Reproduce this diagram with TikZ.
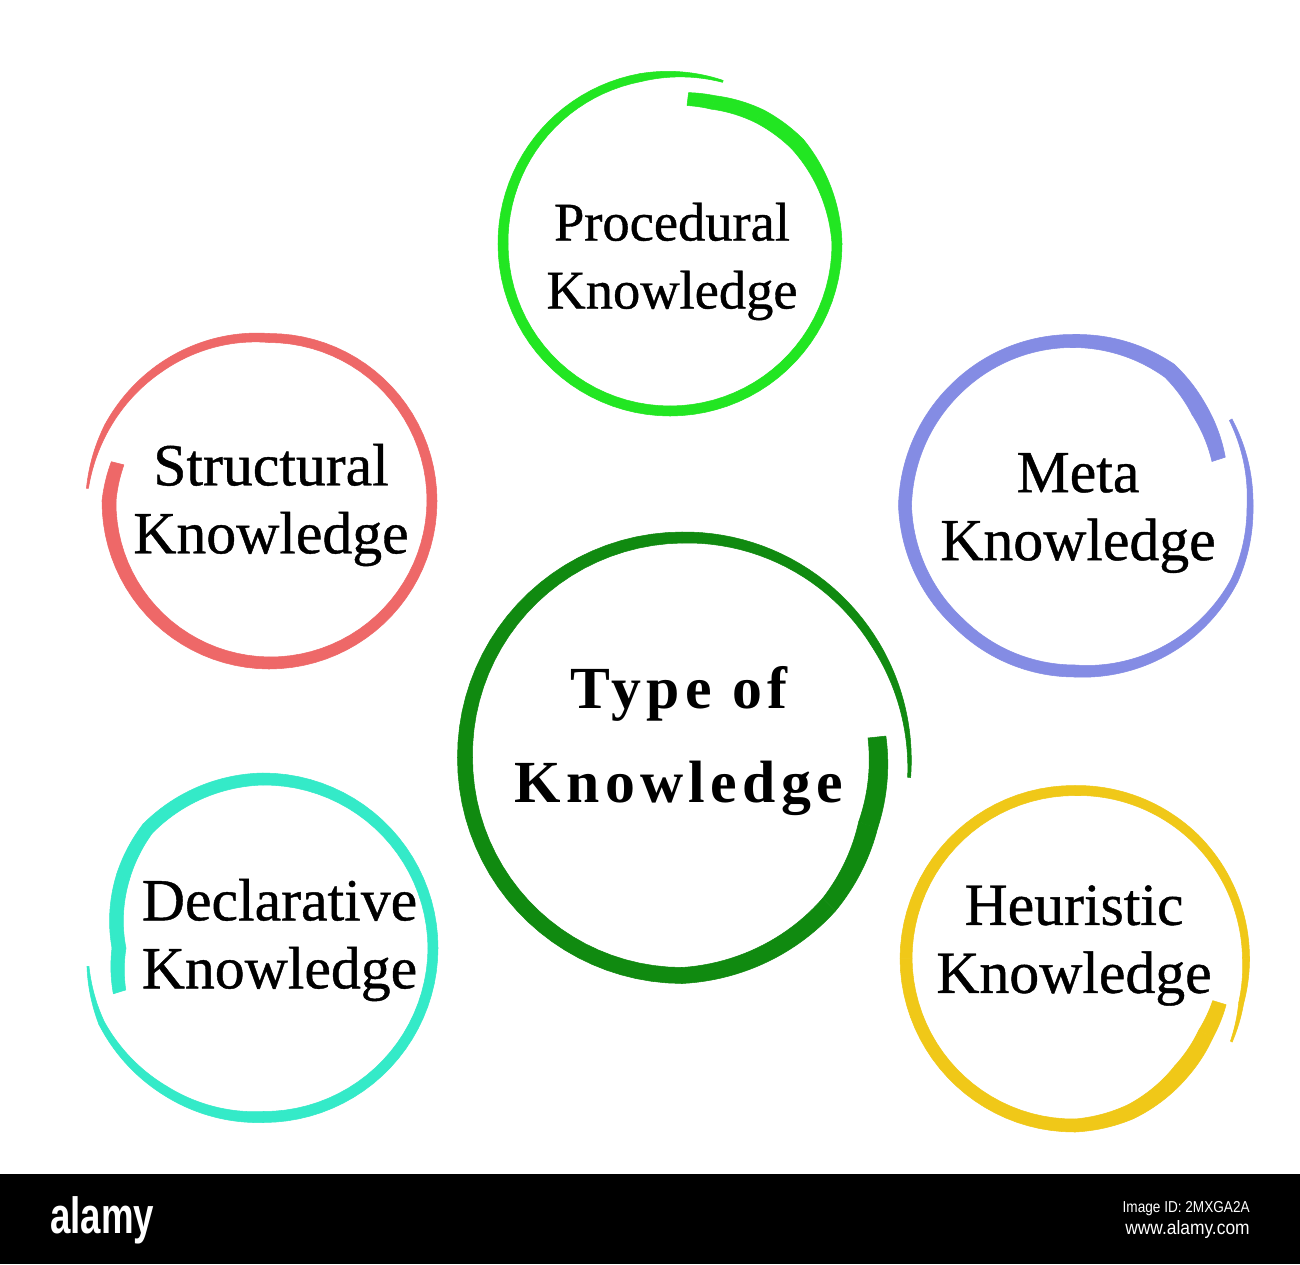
\documentclass[tikz,border=0pt]{standalone}
\usepackage{fontspec}
\setmainfont{Liberation Serif}
\newfontfamily\labelfont[FakeBold=0.7]{Liberation Serif}
\newfontfamily\typefont[LetterSpace=9]{Liberation Serif}
\newfontfamily\stampfont{Liberation Sans}
\usetikzlibrary{positioning}

\definecolor{procGreen}{RGB}{34,230,34}
\definecolor{structRed}{RGB}{238,104,104}
\definecolor{metaBlue}{RGB}{132,140,228}
\definecolor{typeGreen}{RGB}{16,138,16}
\definecolor{declTeal}{RGB}{52,234,200}
\definecolor{heurGold}{RGB}{240,200,24}

% one brush segment: colour, centre x, centre y, angle from/to, radius from/to, width from/to
\newcommand{\brushstroke}[9][black]{%
  \filldraw[#1, line width=.3pt, line join=round]
    plot[domain=#4:#5, samples=24]
      ({#2+((#6)+((#7)-(#6))*(\x-(#4))/((#5)-(#4))+((#8)+((#9)-(#8))*(\x-(#4))/((#5)-(#4)))/2)*cos(\x)},
       {#3-((#6)+((#7)-(#6))*(\x-(#4))/((#5)-(#4))+((#8)+((#9)-(#8))*(\x-(#4))/((#5)-(#4)))/2)*sin(\x)})
    -- plot[domain=#5:#4, samples=24]
      ({#2+((#6)+((#7)-(#6))*(\x-(#4))/((#5)-(#4))-((#8)+((#9)-(#8))*(\x-(#4))/((#5)-(#4)))/2)*cos(\x)},
       {#3-((#6)+((#7)-(#6))*(\x-(#4))/((#5)-(#4))-((#8)+((#9)-(#8))*(\x-(#4))/((#5)-(#4)))/2)*sin(\x)})
    -- cycle;}

\begin{document}
\begin{tikzpicture}[x=0.02cm,y=-0.02cm,
          kind/.style={
            align=center,
            inner sep=0pt,
            font=\labelfont\fontsize{34}{38.7}\selectfont},
          mainkind/.style={
            align=center,
            inner sep=0pt,
            font=\typefont\bfseries\fontsize{34}{53.5}\selectfont},
          stamp/.style={
            inner sep=0pt,
            text=white}
          ]

          \useasboundingbox[fill=white] (0,0) rectangle (1300,1264);

          \node[kind, font=\labelfont\fontsize{31}{38.7}\selectfont] (procedural) at (672,261.5) {Procedural\\Knowledge};
          \node[kind] (structural) at (271,505) {Structural\\Knowledge};
          \node[kind] (meta) at (1078,513) {Meta\\Knowledge};
          \node[mainkind] (typeofknowledge) at (679,741) {Type of\\Knowledge};
          \node[kind] (declarative) at (279.5,940) {Declarative\\Knowledge};
          \node[kind] (heuristic) at (1074,945.5) {Heuristic\\Knowledge};

          % brush rings
          \foreach \aa/\ab/\ra/\rb/\wa/\wb in {72/100/171/169/2/8, 100/180/169/167/8/10, 180/270/167/167/10/10,
              270/360/167/167/10/10, 360/398/167/162/10/15, 398/415/162/156/15/15, 415/433/156/148/15/14, 433/443/148/146/14/13}
            {\brushstroke[procGreen]{670}{244}{\aa}{\ab}{\ra}{\rb}{\wa}{\wb}}

          \foreach \aa/\ab/\ra/\rb/\wa/\wb in {176/155/182/178/2/6, 155/130/178/172/6/8, 130/90/172/163/8/9,
              90/0/163/163/9/10, 0/-90/163/162/10/12, -90/-180/162/160/12/14, -180/-194/160/156/14/13}
            {\brushstroke[structRed]{269}{501}{\aa}{\ab}{\ra}{\rb}{\wa}{\wb}}

          \foreach \aa/\ab/\ra/\rb/\wa/\wb in {29/0/178/175/3/6, 0/-25/175/176/6/7, -25/-50/176/172/7/9, -50/-90/172/165/9/12,
              -90/-135/165/165/12/12, -135/-180/165/170/12/13, -180/-225/170/167/13/13, -225/-270/167/165/13/13,
              -270/-305/165/165/13/16, -305/-322/165/157/16/17, -322/-342/157/151/17/14}
            {\brushstroke[metaBlue]{1075}{506}{\aa}{\ab}{\ra}{\rb}{\wa}{\wb}}

          \foreach \aa/\ab/\ra/\rb/\wa/\wb in {-5/30/228/224/3/8, 30/90/224/220/8/11, 90/180/220/217/11/15,
              180/270/217/218/15/16, 270/315/218/208/16/18, 315/340/208/198/18/20, 340/366/198/196/20/18}
            {\brushstroke[typeGreen]{682}{757.5}{\aa}{\ab}{\ra}{\rb}{\wa}{\wb}}

          \foreach \aa/\ab/\ra/\rb/\wa/\wb in {186/205/176/178/2/6, 205/235/178/173/6/9, 235/270/173/169/9/11,
              270/360/169/170/11/10, 360/450/170/169/10/12, 450/494/169/166/12/13, 494/513/166/157/13/14,
              513/540/157/144/14/14, 540/557/144/150/14/13}
            {\brushstroke[declTeal]{263}{948}{\aa}{\ab}{\ra}{\rb}{\wa}{\wb}}

          \foreach \aa/\ab/\ra/\rb/\wa/\wb in {-28/-15/177/172/2/5, -15/0/172/171/5/7, 0/45/171/170/7/9,
              45/90/170/168/9/10, 90/180/168/169/10/12, 180/270/169/167/12/13, 270/290/167/163/13/15,
              290/313/163/155/15/17, 313/330/155/151/17/16, 330/343/151/151/16/14}
            {\brushstroke[heurGold]{1075}{958.5}{\aa}{\ab}{\ra}{\rb}{\wa}{\wb}}

          % stock bar
          \fill[black] (0,1174) rectangle (1300,1264);
          \node[stamp, anchor=base west, font=\stampfont\bfseries\fontsize{29}{29}\selectfont] (stamplogo) at (50,1233) {\scalebox{0.72}[1]{alamy}};
          \node[stamp, anchor=base east, font=\stampfont\fontsize{9}{9}\selectfont] (stampid) at (1250,1212) {\scalebox{0.86}[1]{Image ID: 2MXGA2A}};
          \node[stamp, anchor=base east, font=\stampfont\fontsize{11}{11}\selectfont] (stampurl) at (1250,1234) {\scalebox{0.9}[1]{www.alamy.com}};
        \end{tikzpicture}
\end{document}
